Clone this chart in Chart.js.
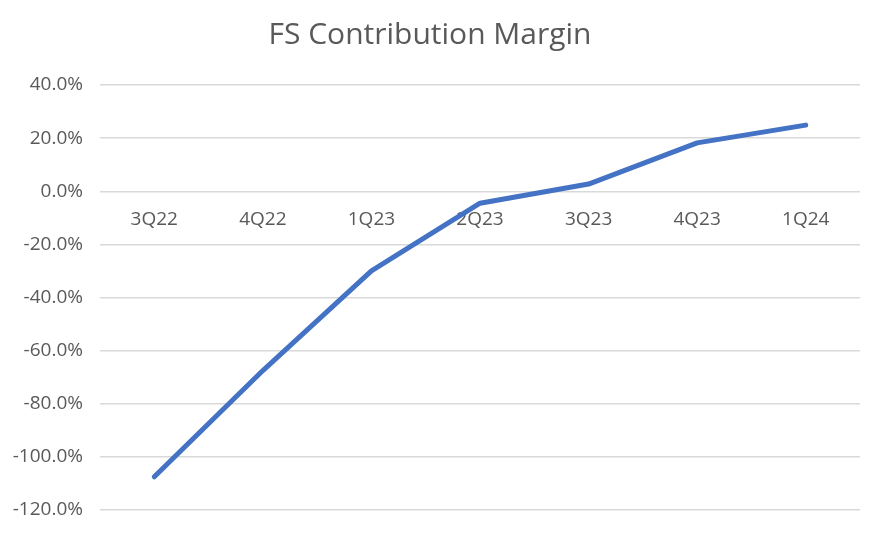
<!DOCTYPE html>
<html>
<head>
<meta charset="utf-8">
<script src="https://cdn.jsdelivr.net/npm/chart.js@4/dist/chart.umd.min.js"></script>
<style>
  html, body { margin: 0; padding: 0; background: #fff; }
  #wrap { width: 879px; height: 533px; position: relative; }
</style>
</head>
<body>
<div id="wrap"><canvas id="c" width="879" height="533"></canvas></div>
<script>
const categories = ['3Q22', '4Q22', '1Q23', '2Q23', '3Q23', '4Q23', '1Q24'];
const marginValues = [-107.5, -67.5, -30.0, -4.5, 2.7, 18.2, 24.9];
const yMin = -120, yMax = 40, yStep = 20;
const chartTitle = 'FS Contribution Margin';

const textColor = '#595959';
const fontFamily = "'Open Sans', 'Noto Sans', 'Liberation Sans', sans-serif";

new Chart(document.getElementById('c'), {
  type: 'line',
  data: {
    labels: categories,
    datasets: [{
      label: chartTitle,
      data: marginValues,
      borderColor: '#4472C4',
      backgroundColor: '#4472C4',
      borderWidth: 5,
      borderCapStyle: 'round',
      borderJoinStyle: 'round',
      pointRadius: 0,
      pointHoverRadius: 0,
      tension: 0,
      fill: false
    }]
  },
  options: {
    responsive: false,
    animation: false,
    devicePixelRatio: 1,
    layout: { padding: { left: 0, right: 19, top: 0, bottom: 23 } },
    plugins: {
      legend: { display: false },
      tooltip: { enabled: false },
      title: {
        display: true,
        text: chartTitle,
        color: textColor,
        font: { family: fontFamily, size: 30, weight: 'normal' },
        padding: { top: 17, bottom: 32 }
      }
    },
    scales: {
      x: {
        type: 'category',
        position: { y: 0 },
        offset: true,
        afterFit: (s) => { s.height = 0; },
        grid: { display: false, drawTicks: false },
        border: { display: false },
        ticks: {
          color: textColor,
          font: { family: fontFamily, size: 19 },
          padding: 17,
          maxRotation: 0,
          autoSkip: false
        }
      },
      y: {
        min: yMin,
        max: yMax,
        afterFit: (s) => { s.width = 100; s.paddingBottom = 0; },
        grid: { color: '#d9d9d9', lineWidth: 1.5, drawTicks: false },
        border: { display: false },
        ticks: {
          stepSize: yStep,
          color: textColor,
          font: { family: fontFamily, size: 19 },
          padding: 17,
          callback: (v) => v.toFixed(1) + '%'
        }
      }
    }
  }
});
</script>
</body>
</html>
